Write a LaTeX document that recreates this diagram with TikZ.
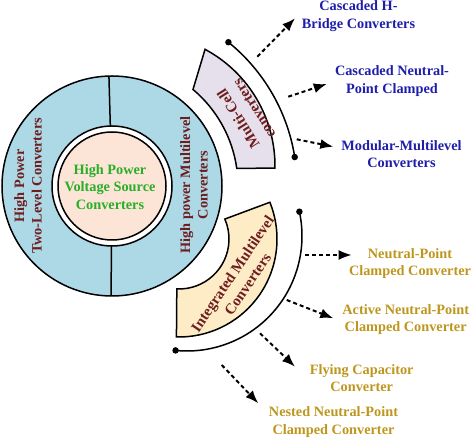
\documentclass[tikz,border=0pt]{standalone}
\usepackage{fontspec}
\setmainfont{Liberation Serif}
\usetikzlibrary{arrows.meta,calc}
\definecolor{ringblue}{RGB}{173,216,230}
\definecolor{peach}{RGB}{252,228,214}
\definecolor{lavender}{RGB}{230,224,236}
\definecolor{lightyellow}{RGB}{253,236,198}
\definecolor{maroon}{RGB}{110,30,30}
\definecolor{txtblue}{RGB}{30,30,170}
\definecolor{gold}{RGB}{190,150,30}
\definecolor{txtgreen}{RGB}{40,175,40}
\begin{document}
\begin{tikzpicture}[x=1pt,y=1pt,
  lbl/.style={font=\bfseries\fontsize{14.3}{17.5}\selectfont, align=center, inner sep=0pt},
  seclbl/.style={font=\bfseries\fontsize{15}{18.5}\selectfont, align=center, inner sep=0pt, text=maroon},
  arr/.style={line width=2pt, dash pattern=on 4pt off 3pt, -{Latex[length=13pt,width=10pt]}},
  bracket/.style={line width=1.5pt},
  dotend/.style={circle, fill=black, inner sep=0pt, minimum size=6.5pt},
  outline/.style={draw=black, line width=1.5pt}]
\useasboundingbox (0,0) rectangle (474,438);
% main circle
\coordinate (C) at (112,252);
\draw[outline, fill=ringblue] (C) circle[radius=110];
\draw[outline, fill=white] (C) circle[radius=60];
\draw[outline, fill=peach] (C) circle[radius=54];
\draw[outline] ($(C)+(91.6:60)$) -- ($(C)+(91.6:110)$);
\draw[outline] ($(C)+(-90.5:60)$) -- ($(C)+(-90.5:110)$);
\node[lbl, text=txtgreen] (hpvsc) at (110,251) {High Power\\Voltage Source\\Converters};
\node[lbl, text=maroon, rotate=90] (twolevel) at (28,252) {High Power\\Two-Level Converters};
\node[lbl, text=maroon, rotate=90] (multilevel) at (194,253) {High power Multilevel\\Converters};
% multi-cell sector
\coordinate (O) at (142.4,271.8);
\draw[outline, fill=lavender] ($(O)+(61.8:132.6)$) arc[start angle=61.8, end angle=-0.8, radius=132.6]
  -- ($(C)+(8:126)$) arc[start angle=8, end angle=50, radius=126] -- cycle;
\node[seclbl, rotate=122] (multicell) at (246,324) {Multi-Cell\\converters};
\draw[bracket] ($(C)+(51:185)$) coordinate (mA) arc[start angle=51, end angle=9, radius=185] coordinate (mB);
\node[dotend] (mdotA) at (mA) {};
\node[dotend] (mdotB) at (mB) {};
% integrated sector
\coordinate (S) at (179,199);
\draw[outline, fill=lightyellow] ($(S)+(22:98)$) arc[start angle=22, end angle=-91.5, radius=98]
  -- ($(S)+(-92.5:50)$) arc[start angle=-92.5, end angle=23.5, radius=50] -- cycle;
\node[seclbl, rotate=56] (integrated) at (240,159) {Integrated Multilevel\\Converters};
\coordinate (T) at (187,202);
\draw[bracket] ($(T)+(12.2:115)$) coordinate (iA) arc[start angle=12.2, end angle=-95.7, radius=115] coordinate (iB);
\node[dotend] (idotA) at (iA) {};
\node[dotend] (idotB) at (iB) {};
% leaf labels
\node[lbl, text=txtblue] (chb) at (358.5,422) {Cascaded H-\\Bridge Converters};
\node[lbl, text=txtblue] (cnpc) at (392,357) {Cascaded Neutral-\\Point Clamped};
\node[lbl, text=txtblue] (mmc) at (401.5,284) {Modular-Multilevel\\Converters};
\node[lbl, text=gold] (npc) at (410,174.3) {Neutral-Point\\Clamped Converter};
\node[lbl, text=gold] (anpc) at (405.7,118.3) {Active Neutral-Point\\Clamped Converter};
\node[lbl, text=gold] (fc) at (361.7,59.7) {Flying Capacitor\\Converter};
\node[lbl, text=gold] (nnpc) at (333.5,16) {Nested Neutral-Point\\Clamped Converter};
% arrow coordinates
\coordinate (m1s) at (257.3,381.3); \coordinate (m1e) at (295,419.7);
\coordinate (m2s) at (288.3,341.3); \coordinate (m2e) at (326.7,354);
\coordinate (m3s) at (296.7,298.7); \coordinate (m3e) at (333.3,291.3);
\coordinate (i1s) at (305,183);     \coordinate (i1e) at (351.7,183);
\coordinate (i2s) at (286.7,138);   \coordinate (i2e) at (333.3,119.7);
\coordinate (i3s) at (260,104.7);   \coordinate (i3e) at (295,71.3);
\coordinate (i4s) at (221.7,73);    \coordinate (i4e) at (258.3,34.7);
\draw[arr] (m1s) -- (m1e);
\draw[arr] (m2s) -- (m2e);
\draw[arr] (m3s) -- (m3e);
\draw[arr] (i1s) -- (i1e);
\draw[arr] (i2s) -- (i2e);
\draw[arr] (i3s) -- (i3e);
\draw[arr] (i4s) -- (i4e);
\end{tikzpicture}
\end{document}
